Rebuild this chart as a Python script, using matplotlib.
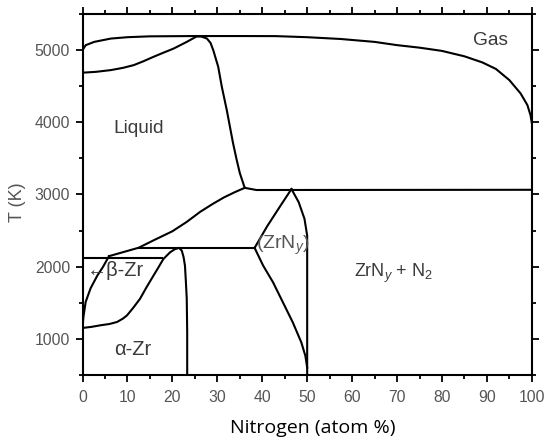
import numpy as np
import matplotlib
matplotlib.use('Agg')
import matplotlib.pyplot as plt
from matplotlib.ticker import MultipleLocator

plt.rcParams['font.family'] = ['Liberation Sans', 'DejaVu Sans']
plt.rcParams['mathtext.fontset'] = 'custom'
plt.rcParams['mathtext.rm'] = 'Liberation Sans'
plt.rcParams['mathtext.it'] = 'Liberation Sans:italic'

# boundaries, x = nitrogen atom %, T in K
gas_x = [0, 0.7, 2.6, 6.3, 10, 15, 25, 35, 43, 50, 57.5, 65, 70, 75, 80, 85, 89, 92, 95, 97.5, 99, 99.7, 100]
gas_T = [5000, 5069, 5115, 5161, 5180, 5192, 5196, 5196, 5195, 5180, 5155, 5115, 5070, 5035, 4990, 4915, 4830, 4740, 4585, 4400, 4240, 4100, 3990]

liq_x = [0, 3, 6.3, 9, 11.4, 13.5, 15.8, 18, 20.3, 23.2, 25.4, 26.5, 27.7, 28.5, 29.1, 30.2, 31.0, 32.1, 32.8, 33.5, 34.3, 35.0, 36.1]
liq_T = [4688, 4700, 4724, 4755, 4793, 4845, 4908, 4965, 5023, 5115, 5190, 5188, 5161, 5100, 5000, 4770, 4494, 4172, 3942, 3712, 3483, 3299, 3092]

iso3060_x = [36.1, 38.7, 100]
iso3060_T = [3092, 3062, 3065]

diag_x = [5.9, 9, 12.5, 16, 20, 23.2, 26.2, 29, 31.5, 34, 36.1]
diag_T = [2145, 2200, 2262, 2370, 2490, 2620, 2760, 2870, 2960, 3035, 3092]

iso2260_x = [12.5, 38.3]
iso2260_T = [2260, 2260]

iso2125_x = [0, 17.8]
iso2125_T = [2125, 2125]

beta_x = [0, 0.2, 0.7, 1.8, 3.3, 4.5, 5.9]
beta_T = [1150, 1300, 1510, 1700, 1876, 1990, 2145]

alpha_x = [0, 2, 4, 6, 7.7, 9, 9.9, 11.3, 12.8, 14.3, 15.8, 17, 18, 19.5, 20.5, 21.5,
           22.1, 22.5, 22.8, 23.0, 23.2, 23.3, 23.3]
alpha_T = [1150, 1165, 1187, 1205, 1233, 1280, 1324, 1430, 1554, 1720, 1876, 2000, 2106, 2199, 2240, 2260,
           2221, 2130, 2014, 1800, 1554, 1094, 500]

zrn_up_x = [38.3, 41.1, 44.1, 46.5]
zrn_up_T = [2260, 2560, 2848, 3075]

zrn_right_x = [46.5, 48.1, 49.4, 50, 50]
zrn_right_T = [3075, 2895, 2663, 2430, 500]

zrn_low_x = [38.3, 40.2, 42.4, 44.6, 46.8, 48.7, 49.6, 50]
zrn_low_T = [2260, 2014, 1783, 1505, 1227, 949, 763, 600]

curves = [(gas_x, gas_T), (liq_x, liq_T), (iso3060_x, iso3060_T), (diag_x, diag_T),
          (iso2260_x, iso2260_T), (iso2125_x, iso2125_T), (beta_x, beta_T),
          (alpha_x, alpha_T), (zrn_up_x, zrn_up_T), (zrn_right_x, zrn_right_T),
          (zrn_low_x, zrn_low_T)]

fig = plt.figure(figsize=(5.5, 4.41), dpi=100)
ax = fig.add_axes([0.150, 0.150, 0.817, 0.818])

for cx, cT in curves:
    ax.plot(cx, cT, color='black', lw=1.5, solid_joinstyle='round')

ax.set_xlim(0, 100)
ax.set_ylim(500, 5500)
ax.xaxis.set_major_locator(MultipleLocator(10))
ax.xaxis.set_minor_locator(MultipleLocator(5))
ax.yaxis.set_major_locator(MultipleLocator(1000))
ax.yaxis.set_minor_locator(MultipleLocator(500))
ax.tick_params(which='both', direction='out', top=True, right=True, width=1.3,
               labelsize=11.3, labelcolor='#555555')
ax.tick_params(axis='x', pad=6)
ax.tick_params(axis='y', pad=4)
ax.tick_params(which='major', length=5)
ax.tick_params(which='minor', length=3)
for s in ax.spines.values():
    s.set_linewidth(1.5)

ax.set_xlabel('Nitrogen (atom %)', fontsize=14, family=['Open Sans', 'DejaVu Sans'],
              color='black', va='center')
ax.xaxis.set_label_coords(0.512, -0.148)
ax.set_ylabel('T (K)', fontsize=13, color='#555555')
ax.yaxis.set_label_coords(-0.126, 0.478)

txt = '#3a3a3a'
ax.text(90.8, 5135, 'Gas', fontsize=13.8, color=txt, ha='center', va='center')
ax.text(12.5, 3916, 'Liquid', fontsize=13.8, color=txt, ha='center', va='center')
ax.text(69.3, 1900, r'ZrN$_y$ + N$_2$', fontsize=13, color=txt, ha='center', va='center')
ax.text(44.7, 2290, r'(ZrN$_y$)', fontsize=14, color='#555555', ha='center', va='center')
ax.text(1.0, 1945, '\u2190\u03b2-Zr', fontsize=14.5, color=txt, ha='left', va='center')
ax.text(11.1, 851, '\u03b1-Zr', fontsize=14.5, color=txt, ha='center', va='center')

fig.savefig('out.png', dpi=100)
